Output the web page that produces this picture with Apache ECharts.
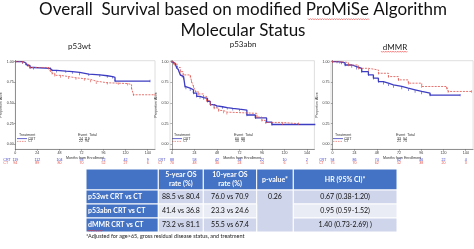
<!DOCTYPE html>
<html>
<head>
<meta charset="utf-8">
<script src="https://cdn.jsdelivr.net/npm/echarts@6/dist/echarts.min.js"></script>
<style>
  html, body { margin: 0; padding: 0; background: #fff; }
  #chart { width: 474px; height: 249px; }
</style>
</head>
<body>
<div id="chart"></div>
<script>
// ---- data ----
const monthTicks = [0, 24, 48, 72, 96, 120, 144];
const survTicks = [0, 0.25, 0.5, 0.75, 1];
const panelNames = ['p53wt', 'p53abn', 'dMMR'];

// [months, proportion alive]
const wtCRT = [[0, 1], [8, 0.99], [11, 0.975], [13, 0.955], [16, 0.93], [20, 0.92], [38, 0.915], [40, 0.895], [45, 0.885], [55, 0.88], [62, 0.87], [70, 0.85], [80, 0.84], [92, 0.83], [100, 0.82], [106, 0.81], [108.5, 0.766], [146.6, 0.766]];
const wtCT = [[0, 1], [8, 0.99], [11, 0.97], [14, 0.95], [16, 0.93], [36, 0.92], [38, 0.89], [40, 0.86], [43, 0.835], [49, 0.82], [58, 0.805], [66, 0.795], [75, 0.785], [82, 0.765], [88, 0.745], [100, 0.74], [112, 0.735], [122, 0.725], [126.5, 0.68], [128.5, 0.6], [152, 0.6]];
const abnCRT = [[0, 1], [2, 0.98], [3.5, 0.96], [5, 0.93], [7, 0.9], [9, 0.84], [11, 0.82], [12.5, 0.8], [14, 0.7], [15, 0.68], [19.5, 0.66], [23, 0.62], [26.5, 0.58], [30, 0.565], [34, 0.555], [38, 0.52], [41, 0.48], [45, 0.465], [48, 0.455], [54, 0.445], [59, 0.435], [65, 0.425], [72, 0.415], [80, 0.355], [89, 0.32], [101, 0.27], [106.7, 0.24], [153, 0.24]];
const abnCT = [[0, 1], [3, 0.97], [6, 0.93], [9, 0.88], [12, 0.84], [19.5, 0.82], [21, 0.76], [23, 0.7], [25, 0.64], [28, 0.61], [33.7, 0.58], [37, 0.53], [41, 0.48], [45, 0.44], [50, 0.41], [55, 0.39], [58.7, 0.375], [90.7, 0.33], [96, 0.29], [100, 0.265], [118, 0.25], [135, 0.25]];
const dmmrCRT = [[0, 1], [5, 0.995], [10, 0.985], [13.7, 0.96], [21, 0.94], [26.3, 0.92], [31.7, 0.88], [38.9, 0.84], [44.3, 0.8], [49.7, 0.76], [55, 0.74], [60.5, 0.72], [65.9, 0.7], [75, 0.68], [82, 0.66], [89.3, 0.64], [96.5, 0.62], [105.5, 0.595], [138, 0.595]];
const dmmrCT = [[0, 1], [8, 0.99], [17.3, 0.96], [28, 0.92], [39, 0.9], [49.7, 0.86], [60.5, 0.82], [71.3, 0.78], [82, 0.74], [96.5, 0.7], [123.5, 0.68], [125, 0.64], [150.5, 0.64]];

// number at risk under each plot, at the month ticks
const riskCRT = [[119, 112, 104, 93, 72, 42, 9], [88, 58, 42, 34, 22, 10, 2], [94, 86, 74, 62, 46, 22, 4]];
const riskCT = [[94, 89, 80, 70, 52, 27, 6], [70, 48, 30, 24, 14, 6, 1], [75, 70, 62, 52, 38, 20, 3]];
// event / total per arm
const eventsCRT = [[24, 119], [60, 88], [33, 94]];
const eventsCT = [[22, 94], [50, 70], [21, 75]];

const tableHeader = ['', '5-year OS\nrate (%)', '10-year OS\nrate (%)', 'p-value*', 'HR (95% CI)*'];
const tableRows = [
  ['p53wt CRT vs CT', '88.5 vs 80.4', '76.0 vs 70.9', '0.26', '0.67 (0.38-1.20)'],
  ['p53abn CRT vs CT', '41.4 vs 36.8', '23.3 vs 24.6', '', '0.95 (0.59-1.52)'],
  ['dMMR CRT vs CT', '73.2 vs 81.1', '55.5 vs 67.4', '', '1.40 (0.73-2.69) )']
];
const footnote = '*Adjusted for age>65, gross residual disease status, and treatment';

// ---- layout ----
const blue = '#3d3dc2';
const red = '#e0504a';
const axisColor = '#555';
const tinyFont = 'Liberation Sans';
const mainFont = 'Lato, "Open Sans", sans-serif';

const grids = [
  { left: 15.3, top: 60.7, width: 139.7, height: 88.6 },
  { left: 170, top: 60.7, width: 144.4, height: 88.6 },
  { left: 331, top: 60.7, width: 142.1, height: 88.6 }
];
const xMins = [0, -2, -1.5];
const curves = [[wtCRT, wtCT], [abnCRT, abnCT], [dmmrCRT, dmmrCT]];

const chart = echarts.init(document.getElementById('chart'));

const option = {
  animation: false,
  backgroundColor: '#fff',
  grid: grids.map(g => ({
    ...g,
    show: true,
    borderColor: '#d6d6d6',
    borderWidth: 0.8,
    outerBoundsMode: 'none'
  })),
  xAxis: grids.map((g, i) => ({
    type: 'value',
    gridIndex: i,
    min: xMins[i],
    max: 152,
    name: 'Months from Enrollment',
    nameLocation: 'middle',
    nameGap: 5.5,
    nameTextStyle: { fontSize: 3.6, color: '#333', fontFamily: tinyFont },
    axisLine: { onZero: false, lineStyle: { color: axisColor, width: 0.6 } },
    axisTick: { customValues: monthTicks, length: 1.5, lineStyle: { color: axisColor, width: 0.5 } },
    axisLabel: { customValues: monthTicks, fontSize: 3.6, color: '#333', margin: 1.5, fontFamily: tinyFont },
    splitLine: { show: false }
  })),
  yAxis: grids.map((g, i) => ({
    type: 'value',
    gridIndex: i,
    min: -0.06,
    max: 1.012,
    name: 'Proportion Alive',
    nameLocation: 'middle',
    nameGap: 10,
    nameTextStyle: { fontSize: 3.6, color: '#333', fontFamily: tinyFont },
    axisLine: { show: true, lineStyle: { color: axisColor, width: 0.6 } },
    axisTick: { show: true, customValues: survTicks, length: 1.5, lineStyle: { color: axisColor, width: 0.5 } },
    axisLabel: { customValues: survTicks, fontSize: 3.6, color: '#333', margin: 1.5, fontFamily: tinyFont, formatter: v => v.toFixed(2) },
    splitLine: { show: false }
  })),
  series: []
};

curves.forEach((pair, i) => {
  option.series.push({
    name: 'CRT',
    type: 'line',
    xAxisIndex: i,
    yAxisIndex: i,
    step: 'end',
    data: pair[0],
    symbol: 'rect',
    symbolSize: [0.6, 2.4],
    itemStyle: { color: blue },
    lineStyle: { color: blue, width: 1.3 },
    silent: true,
    z: 3
  });
  option.series.push({
    name: 'CT',
    type: 'line',
    xAxisIndex: i,
    yAxisIndex: i,
    step: 'end',
    data: pair[1],
    symbol: 'rect',
    symbolSize: [0.6, 2.4],
    itemStyle: { color: red },
    lineStyle: { color: red, width: 0.8, type: [2, 1.2] },
    silent: true,
    z: 4
  });
});

chart.setOption(option);

// ---- annotations: titles, legends, numbers at risk, table ----
const txt = (x, y, text, style) => ({
  type: 'text',
  x, y,
  silent: true,
  style: Object.assign({ text, fontSize: 3.6, fontFamily: tinyFont, fill: '#333', align: 'left', verticalAlign: 'middle' }, style)
});
const squiggle = (x1, x2, y) => {
  const pts = [];
  for (let x = x1, k = 0; x <= x2; x += 1.2, k++) pts.push([x, y + (k % 2 ? 0.8 : -0.4)]);
  return { type: 'polyline', silent: true, shape: { points: pts }, style: { stroke: '#e33', lineWidth: 0.6, fill: null } };
};

const graphics = [];
graphics.push(txt(243, 10, 'Overall  Survival based on modified ProMiSe Algorithm', { fontSize: 17, fontFamily: mainFont, fill: '#111', align: 'center' }));
graphics.push(txt(243, 30.5, 'Molecular Status', { fontSize: 17, fontFamily: mainFont, fill: '#111', align: 'center' }));
graphics.push(squiggle(308, 370, 19));

const subX = [79.5, 243, 395];
const subY = [46, 44.5, 47];
panelNames.forEach((n, i) => {
  graphics.push(txt(subX[i], subY[i], n, { fontSize: 8, fontFamily: mainFont, fill: '#222', align: 'center' }));
});
graphics.push(squiggle(381, 408, 51.5));

const legendX = [17, 172, 333];
const eventX = [78, 234, 396];
grids.forEach((g, i) => {
  const lx = legendX[i];
  graphics.push(txt(lx + 2, 135, 'Treatment'));
  graphics.push({ type: 'line', silent: true, shape: { x1: lx, y1: 138.6, x2: lx + 10, y2: 138.6 }, style: { stroke: blue, lineWidth: 0.8 } });
  graphics.push({ type: 'line', silent: true, shape: { x1: lx, y1: 141.4, x2: lx + 10, y2: 141.4 }, style: { stroke: red, lineWidth: 0.6, lineDash: [1.5, 1] } });
  graphics.push(txt(lx + 11, 138.6, 'CRT'));
  graphics.push(txt(lx + 11, 141.4, 'CT'));
  const ex = eventX[i];
  graphics.push(txt(ex, 135, 'Event  Total'));
  graphics.push(txt(ex + 3, 138.6, String(eventsCRT[i][0]), { align: 'center' }));
  graphics.push(txt(ex + 9, 138.6, String(eventsCRT[i][1]), { align: 'center' }));
  graphics.push(txt(ex + 3, 141.4, String(eventsCT[i][0]), { align: 'center' }));
  graphics.push(txt(ex + 9, 141.4, String(eventsCT[i][1]), { align: 'center' }));

  // numbers at risk
  graphics.push(txt(g.left - 12, 160, 'CRT', { fill: blue }));
  graphics.push(txt(g.left - 12, 162.6, 'CT', { fill: red }));
  monthTicks.forEach((m, k) => {
    const px = chart.convertToPixel({ gridIndex: i }, [m, 0])[0];
    graphics.push(txt(px, 160, String(riskCRT[i][k]), { fill: blue, align: 'center' }));
    graphics.push(txt(px, 162.6, String(riskCT[i][k]), { fill: red, align: 'center' }));
  });
});

// table
const colX = [86, 158.3, 203.3, 256.7, 293.3, 397];
const rowY = [169, 190, 204, 218, 232];
const headBlue = '#4472c4';
const rowFill = ['#cfd5ea', '#e9ebf5', '#cfd5ea'];
const cell = (c, r, fill, rSpan) => ({
  type: 'rect', silent: true,
  shape: { x: colX[c], y: rowY[r], width: colX[c + 1] - colX[c], height: rowY[r + (rSpan || 1)] - rowY[r] },
  style: { fill, stroke: '#fff', lineWidth: 1 }
});
tableHeader.forEach((h, c) => {
  graphics.push(cell(c, 0, headBlue));
  if (h) graphics.push(txt((colX[c] + colX[c + 1]) / 2, (rowY[0] + rowY[1]) / 2, h, { fontSize: 7, fontFamily: mainFont, fontWeight: 'bold', fill: '#fff', align: 'center', lineHeight: 9 }));
});
tableRows.forEach((row, r) => {
  const cy = (rowY[r + 1] + rowY[r + 2]) / 2;
  row.forEach((v, c) => {
    if (c === 3) {
      if (r === 0) graphics.push(cell(3, 1, rowFill[0], 3));
    } else {
      graphics.push(cell(c, r + 1, c === 0 ? headBlue : rowFill[r]));
    }
  });
  row.forEach((v, c) => {
    if (!v) return;
    if (c === 0) {
      graphics.push(txt(colX[0] + 2, cy, v, { fontSize: 7, fontFamily: mainFont, fontWeight: 'bold', fill: '#fff' }));
    } else {
      graphics.push(txt((colX[c] + colX[c + 1]) / 2, cy, v, { fontSize: 7, fontFamily: mainFont, fill: '#111', align: 'center' }));
    }
  });
});
graphics.push(squiggle(88, 103, 230.5));
graphics.push(txt(86, 236.5, footnote, { fontSize: 5.5, fontFamily: mainFont, fill: '#222' }));

chart.setOption({ graphic: { elements: graphics } });
</script>
</body>
</html>
